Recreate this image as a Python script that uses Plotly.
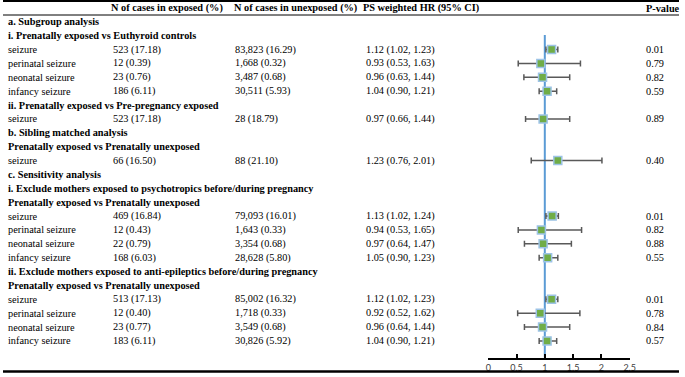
import plotly.graph_objects as go

# ---- data ----
headers = ["", "N of cases in exposed (%)", "N of cases in unexposed (%)", "PS weighted HR (95% CI)", "P-value"]

row_labels = [
    "a. Subgroup analysis",
    "i. Prenatally exposed vs Euthyroid controls",
    "seizure", "perinatal seizure", "neonatal seizure", "infancy seizure",
    "ii. Prenatally exposed vs Pre-pregnancy exposed",
    "seizure",
    "b. Sibling matched analysis",
    "Prenatally exposed vs Prenatally unexposed",
    "seizure",
    "c. Sensitivity analysis",
    "i. Exclude mothers exposed to psychotropics before/during pregnancy",
    "Prenatally exposed vs Prenatally unexposed",
    "seizure", "perinatal seizure", "neonatal seizure", "infancy seizure",
    "ii. Exclude mothers exposed to anti-epileptics before/during pregnancy",
    "Prenatally exposed vs Prenatally unexposed",
    "seizure", "perinatal seizure", "neonatal seizure", "infancy seizure",
]
row_bold = [True, True, False, False, False, False, True, False, True, True, False,
            True, True, True, False, False, False, False, True, True, False, False, False, False]

exposed = ["", "", "523 (17.18)", "12 (0.39)", "23 (0.76)", "186 (6.11)", "", "523 (17.18)",
           "", "", "66 (16.50)", "", "", "", "469 (16.84)", "12 (0.43)", "22 (0.79)", "168 (6.03)",
           "", "", "513 (17.13)", "12 (0.40)", "23 (0.77)", "183 (6.11)"]
unexposed = ["", "", "83,823 (16.29)", "1,668 (0.32)", "3,487 (0.68)", "30,511 (5.93)", "", "28 (18.79)",
             "", "", "88 (21.10)", "", "", "", "79,093 (16.01)", "1,643 (0.33)", "3,354 (0.68)", "28,628 (5.80)",
             "", "", "85,002 (16.32)", "1,718 (0.33)", "3,549 (0.68)", "30,826 (5.92)"]
hr_text = ["", "", "1.12 (1.02, 1.23)", "0.93 (0.53, 1.63)", "0.96 (0.63, 1.44)", "1.04 (0.90, 1.21)", "",
           "0.97 (0.66, 1.44)", "", "", "1.23 (0.76, 2.01)", "", "", "",
           "1.13 (1.02, 1.24)", "0.94 (0.53, 1.65)", "0.97 (0.64, 1.47)", "1.05 (0.90, 1.23)",
           "", "", "1.12 (1.02, 1.23)", "0.92 (0.52, 1.62)", "0.96 (0.64, 1.44)", "1.04 (0.90, 1.21)"]
pvals = ["", "", "0.01", "0.79", "0.82", "0.59", "", "0.89", "", "", "0.40", "", "", "",
         "0.01", "0.82", "0.88", "0.55", "", "", "0.01", "0.78", "0.84", "0.57"]

# forest rows (row index within table, header = 0)
forest_rows = [3, 4, 5, 6, 8, 11, 15, 16, 17, 18, 21, 22, 23, 24]
hr = [1.12, 0.93, 0.96, 1.04, 0.97, 1.23, 1.13, 0.94, 0.97, 1.05, 1.12, 0.92, 0.96, 1.04]
lo = [1.02, 0.53, 0.63, 0.90, 0.66, 0.76, 1.02, 0.53, 0.64, 0.90, 1.02, 0.52, 0.64, 0.90]
hi = [1.23, 1.63, 1.44, 1.21, 1.44, 2.01, 1.24, 1.65, 1.47, 1.23, 1.23, 1.62, 1.44, 1.21]

tick_vals = [0, 0.5, 1, 1.5, 2, 2.5]
tick_text = ["0", "0.5", "1", "1.5", "2", "2.5"]

# ---- layout geometry ----
W, H = 685, 377
row0_px, row_step = 8.0, 13.87
axis_px = 357.7
def row_of(px):
    return (px - row0_px) / row_step

col_x = [3, 107, 232, 363, 650]
col_x_vals = [3, 109, 233, 366, 650]
FONT = "Liberation Serif, Times New Roman, serif"
FS = 10.3

fig = go.Figure()

fig.add_trace(go.Scatter(
    x=hr, y=forest_rows, mode="markers",
    marker=dict(symbol="square", size=8, color="#70AD47", line=dict(color="#9DC3E6", width=1.5)),
    error_x=dict(type="data", symmetric=False,
                 array=[h - m for h, m in zip(hi, hr)],
                 arrayminus=[m - l for m, l in zip(hr, lo)],
                 color="#595959", thickness=1.5, width=3),
    showlegend=False, hoverinfo="skip", cliponaxis=False,
))

ann = []
for cx, t in zip(col_x, headers):
    if t:
        ann.append(dict(x=cx / W, y=0, xref="paper", yref="y", text="<b>%s</b>" % t,
                        showarrow=False, xanchor="left", yanchor="middle",
                        font=dict(family=FONT, size=FS, color="black")))
cols = [row_labels, exposed, unexposed, hr_text, pvals]
for ci, col in enumerate(cols):
    for ri, t in enumerate(col):
        if not t:
            continue
        txt = "<b>%s</b>" % t if (ci == 0 and row_bold[ri]) else t
        ann.append(dict(x=col_x_vals[ci] / W, y=ri + 1, xref="paper", yref="y", text=txt,
                        showarrow=False, xanchor="left", yanchor="middle",
                        font=dict(family=FONT, size=FS, color="black")))

shapes = [
    dict(type="line", xref="paper", yref="paper", x0=0, x1=1, y0=1 - 1.0 / H, y1=1 - 1.0 / H,
         line=dict(color="black", width=2)),
    dict(type="line", xref="paper", yref="paper", x0=0, x1=1, y0=1 - 15.0 / H, y1=1 - 15.0 / H,
         line=dict(color="black", width=1)),
    dict(type="line", xref="paper", yref="paper", x0=0, x1=1, y0=1 - 371.5 / H, y1=1 - 371.5 / H,
         line=dict(color="black", width=2.5)),
    dict(type="line", xref="x", yref="y", x0=1, x1=1, y0=row_of(35), y1=row_of(axis_px),
         line=dict(color="#5B9BD5", width=2), layer="below"),
]

x_lo, x_hi = 491.7 / W, 635.0 / W
fig.update_layout(
    width=W, height=H,
    margin=dict(l=0, r=0, t=0, b=0, pad=0),
    paper_bgcolor="white", plot_bgcolor="white",
    annotations=ann, shapes=shapes,
    xaxis=dict(domain=[x_lo, x_hi], range=[0, 2.5], anchor="y",
               showline=True, linecolor="black", linewidth=2, ticks="inside", ticklen=4,
               tickwidth=1.5, tickcolor="black", tickvals=tick_vals, ticktext=tick_text,
               showgrid=False, zeroline=False,
               tickfont=dict(family="Lato", size=9, color="#404040")),
    yaxis=dict(domain=[1 - axis_px / H, 1], range=[row_of(axis_px), row_of(0)], visible=False,
               showgrid=False, zeroline=False),
)

fig.write_html("out.html", config={"displayModeBar": False},
               post_script="document.body.style.margin='0';")
